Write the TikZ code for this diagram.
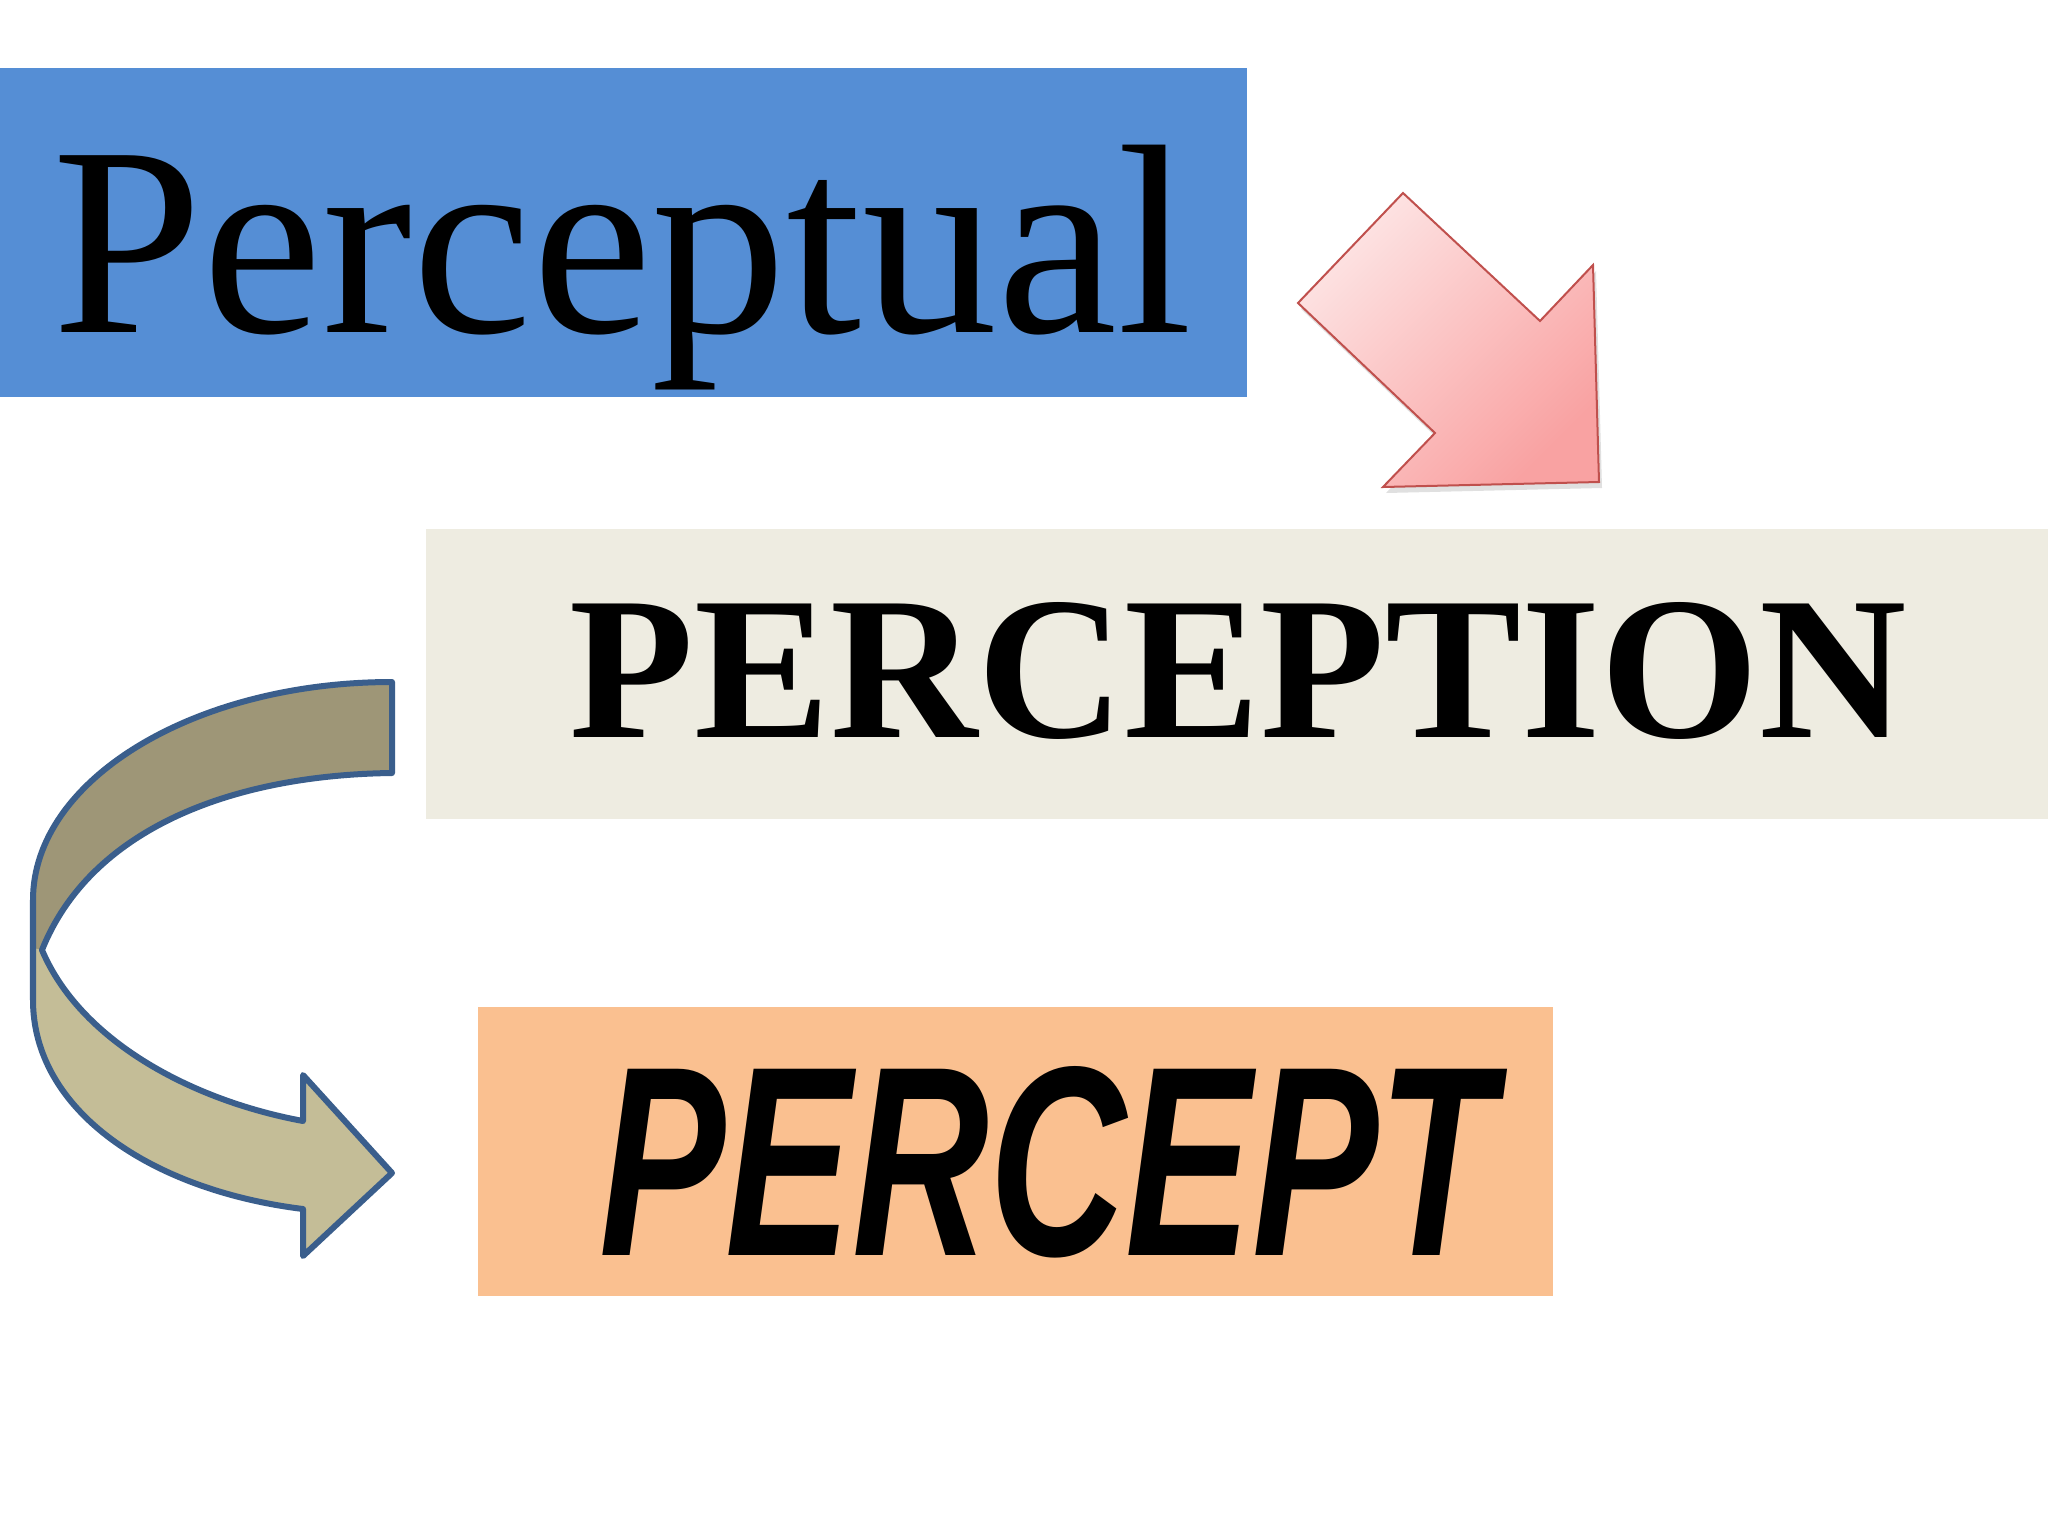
\documentclass[tikz,border=0pt]{standalone}
\usepackage{fontspec}
\setmainfont{Liberation Serif}
\newfontfamily\perceptfont{Liberation Sans}
\definecolor{boxblue}{HTML}{558ED5}
\definecolor{boxbeige}{HTML}{EEECE1}
\definecolor{boxorange}{HTML}{FAC090}
\definecolor{pinklight}{HTML}{FDE4E4}
\definecolor{pinkdark}{HTML}{F9A2A2}
\definecolor{pinkline}{HTML}{C0504D}
\definecolor{banddark}{HTML}{9E9677}
\definecolor{bandlight}{HTML}{C4BD97}
\definecolor{bandline}{HTML}{3A5E8C}
\tikzset{
  slidebox/.style={draw=none, inner sep=0pt, outer sep=0pt, anchor=north west},
  wordtext/.style={anchor=base, inner sep=0pt, text=black},
  pinkarrow/.style={draw=pinkline, line width=0.02cm, line join=miter,
     top color=pinklight, bottom color=pinkdark, shading angle=45},
  bandedge/.style={draw=bandline, line width=0.06cm, line join=round}
}
\begin{document}
\begin{tikzpicture}[x=0.01cm,y=-0.01cm]
\useasboundingbox[fill=white] (0,0) rectangle (2048,1536);

% boxes
\node[slidebox, fill=boxblue, minimum width=12.46cm, minimum height=3.29cm] (bluebox) at (0,68) {};
\node[slidebox, fill=boxbeige, minimum width=16.22cm, minimum height=2.90cm] (beigebox) at (426,529) {};
\node[slidebox, fill=boxorange, minimum width=10.74cm, minimum height=2.89cm] (orangebox) at (478,1007) {};

% texts
\node[wordtext, font=\fontsize{76.8}{80}\selectfont] (perceptual) at (622,332) {Perceptual};
\node[wordtext, font=\fontsize{58}{60}\selectfont\bfseries] (perception) at (1238,737) {PERCEPTION};
\node[wordtext, font=\perceptfont\fontsize{77}{80}\selectfont\bfseries\itshape] (percept) at (1047,1255) {\scalebox{0.7}[1]{PERCEPT}};

% pink arrow with soft shadow
\fill[black, opacity=0.12] (1301,309) -- (1406,199) -- (1543,327) -- (1596,271) -- (1602,488) -- (1386,493) -- (1438,439) -- cycle;
\path[pinkarrow] (1298,303) -- (1403,193) -- (1540,321) -- (1593,265) -- (1599,482) -- (1383,487) -- (1435,433) -- cycle;

% curved arrow
\fill[banddark] (392,682) .. controls (194,682) and (33,780) .. (33,900) -- (33,950) -- (42,950)
   .. controls (90,830) and (230,775) .. (392,773) -- cycle;
\fill[bandlight] (33,948) -- (33,1000) .. controls (33,1110) and (150,1190) .. (303,1209)
   -- (303,1256) -- (392,1173) -- (303,1075) -- (303,1121)
   .. controls (190,1100) and (80,1040) .. (42,950) -- cycle;
\draw[bandedge] (392,682) .. controls (194,682) and (33,780) .. (33,900) -- (33,1000)
   .. controls (33,1110) and (150,1190) .. (303,1209)
   -- (303,1256) -- (392,1173) -- (303,1075) -- (303,1121)
   .. controls (190,1100) and (80,1040) .. (42,950)
   .. controls (90,830) and (230,775) .. (392,773) -- cycle;
\end{tikzpicture}
\end{document}
